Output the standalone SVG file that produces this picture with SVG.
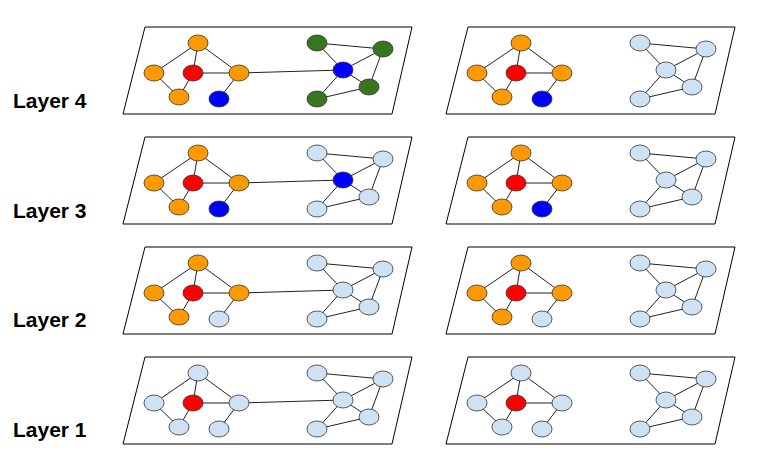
<svg xmlns="http://www.w3.org/2000/svg" xmlns:xlink="http://www.w3.org/1999/xlink" width="759" height="467" viewBox="0 0 759 467">
<style>
.pl{fill:#fff;stroke:#000;stroke-width:1}
.e line{stroke:#222;stroke-width:1}
ellipse{stroke:#333;stroke-width:0.8}
.o{fill:#ff9900}.r{fill:#ff0000}.b{fill:#0000ff}.g{fill:#38761d}.l{fill:#cfe2f3}
.lab{font-family:"Liberation Sans",Arial,sans-serif;font-weight:bold;font-size:21px;fill:#000}
</style>
<defs>
<g id="eA" class="e">
<line x1="198" y1="43" x2="154" y2="73"/><line x1="198" y1="43" x2="193" y2="73"/><line x1="198" y1="43" x2="239" y2="73"/>
<line x1="154" y1="73" x2="179" y2="97"/><line x1="193" y1="73" x2="179" y2="97"/><line x1="193" y1="73" x2="239" y2="73"/>
<line x1="239" y1="73" x2="219" y2="99"/>
<line x1="317" y1="43" x2="383" y2="49"/><line x1="317" y1="43" x2="343" y2="70"/><line x1="383" y1="49" x2="343" y2="70"/>
<line x1="383" y1="49" x2="369" y2="87"/><line x1="343" y1="70" x2="369" y2="87"/><line x1="343" y1="70" x2="317" y2="99"/>
<line x1="317" y1="99" x2="369" y2="87"/>
</g>
<g id="eL" class="e"><use xlink:href="#eA"/><line x1="239" y1="73" x2="343" y2="70"/></g>
<polygon id="pl" class="pl" points="145,27 412,27 392,114 123,114"/>
</defs>
<g id="planes">
<use xlink:href="#pl"/><use xlink:href="#pl" x="323"/>
<use xlink:href="#pl" y="110"/><use xlink:href="#pl" x="323" y="110"/>
<use xlink:href="#pl" y="220"/><use xlink:href="#pl" x="323" y="220"/>
<use xlink:href="#pl" y="330"/><use xlink:href="#pl" x="323" y="330"/>
</g>
<g id="connectors">
<use xlink:href="#eL"/><use xlink:href="#eA" x="323"/>
<use xlink:href="#eL" y="110"/><use xlink:href="#eA" x="323" y="110"/>
<use xlink:href="#eL" y="220"/><use xlink:href="#eA" x="323" y="220"/>
<use xlink:href="#eL" y="330"/><use xlink:href="#eA" x="323" y="330"/>
</g>
<g id="labels">
<text class="lab" x="13" y="108">Layer 4</text>
<text class="lab" x="13" y="218">Layer 3</text>
<text class="lab" x="13" y="327">Layer 2</text>
<text class="lab" x="13" y="437">Layer 1</text>
</g>
<!-- Layer 4 left -->
<g id="L4a">
<g id="L4a-n1"><ellipse class="o" cx="198" cy="43" rx="10" ry="8"/></g>
<g id="L4a-n2"><ellipse class="o" cx="154" cy="73" rx="10" ry="8"/></g>
<g id="L4a-n3"><ellipse class="r" cx="193" cy="73" rx="10" ry="8"/></g>
<g id="L4a-n4"><ellipse class="o" cx="239" cy="73" rx="10" ry="8"/></g>
<g id="L4a-n5"><ellipse class="o" cx="179" cy="97" rx="10" ry="8"/></g>
<g id="L4a-n6"><ellipse class="b" cx="219" cy="99" rx="10" ry="8"/></g>
<g id="L4a-n7"><ellipse class="g" cx="317" cy="43" rx="10" ry="8"/></g>
<g id="L4a-n8"><ellipse class="g" cx="383" cy="49" rx="10" ry="8"/></g>
<g id="L4a-n9"><ellipse class="b" cx="343" cy="70" rx="10" ry="8"/></g>
<g id="L4a-n10"><ellipse class="g" cx="369" cy="87" rx="10" ry="8"/></g>
<g id="L4a-n11"><ellipse class="g" cx="317" cy="99" rx="10" ry="8"/></g>
</g>
<g id="L4b" transform="translate(323,0)">
<g id="L4b-n1"><ellipse class="o" cx="198" cy="43" rx="10" ry="8"/></g>
<g id="L4b-n2"><ellipse class="o" cx="154" cy="73" rx="10" ry="8"/></g>
<g id="L4b-n3"><ellipse class="r" cx="193" cy="73" rx="10" ry="8"/></g>
<g id="L4b-n4"><ellipse class="o" cx="239" cy="73" rx="10" ry="8"/></g>
<g id="L4b-n5"><ellipse class="o" cx="179" cy="97" rx="10" ry="8"/></g>
<g id="L4b-n6"><ellipse class="b" cx="219" cy="99" rx="10" ry="8"/></g>
<g id="L4b-n7"><ellipse class="l" cx="317" cy="43" rx="10" ry="8"/></g>
<g id="L4b-n8"><ellipse class="l" cx="383" cy="49" rx="10" ry="8"/></g>
<g id="L4b-n9"><ellipse class="l" cx="343" cy="70" rx="10" ry="8"/></g>
<g id="L4b-n10"><ellipse class="l" cx="369" cy="87" rx="10" ry="8"/></g>
<g id="L4b-n11"><ellipse class="l" cx="317" cy="99" rx="10" ry="8"/></g>
</g>
<g id="L3a" transform="translate(0,110)">
<g id="L3a-n1"><ellipse class="o" cx="198" cy="43" rx="10" ry="8"/></g>
<g id="L3a-n2"><ellipse class="o" cx="154" cy="73" rx="10" ry="8"/></g>
<g id="L3a-n3"><ellipse class="r" cx="193" cy="73" rx="10" ry="8"/></g>
<g id="L3a-n4"><ellipse class="o" cx="239" cy="73" rx="10" ry="8"/></g>
<g id="L3a-n5"><ellipse class="o" cx="179" cy="97" rx="10" ry="8"/></g>
<g id="L3a-n6"><ellipse class="b" cx="219" cy="99" rx="10" ry="8"/></g>
<g id="L3a-n7"><ellipse class="l" cx="317" cy="43" rx="10" ry="8"/></g>
<g id="L3a-n8"><ellipse class="l" cx="383" cy="49" rx="10" ry="8"/></g>
<g id="L3a-n9"><ellipse class="b" cx="343" cy="70" rx="10" ry="8"/></g>
<g id="L3a-n10"><ellipse class="l" cx="369" cy="87" rx="10" ry="8"/></g>
<g id="L3a-n11"><ellipse class="l" cx="317" cy="99" rx="10" ry="8"/></g>
</g>
<g id="L3b" transform="translate(323,110)">
<g id="L3b-n1"><ellipse class="o" cx="198" cy="43" rx="10" ry="8"/></g>
<g id="L3b-n2"><ellipse class="o" cx="154" cy="73" rx="10" ry="8"/></g>
<g id="L3b-n3"><ellipse class="r" cx="193" cy="73" rx="10" ry="8"/></g>
<g id="L3b-n4"><ellipse class="o" cx="239" cy="73" rx="10" ry="8"/></g>
<g id="L3b-n5"><ellipse class="o" cx="179" cy="97" rx="10" ry="8"/></g>
<g id="L3b-n6"><ellipse class="b" cx="219" cy="99" rx="10" ry="8"/></g>
<g id="L3b-n7"><ellipse class="l" cx="317" cy="43" rx="10" ry="8"/></g>
<g id="L3b-n8"><ellipse class="l" cx="383" cy="49" rx="10" ry="8"/></g>
<g id="L3b-n9"><ellipse class="l" cx="343" cy="70" rx="10" ry="8"/></g>
<g id="L3b-n10"><ellipse class="l" cx="369" cy="87" rx="10" ry="8"/></g>
<g id="L3b-n11"><ellipse class="l" cx="317" cy="99" rx="10" ry="8"/></g>
</g>
<g id="L2a" transform="translate(0,220)">
<g id="L2a-n1"><ellipse class="o" cx="198" cy="43" rx="10" ry="8"/></g>
<g id="L2a-n2"><ellipse class="o" cx="154" cy="73" rx="10" ry="8"/></g>
<g id="L2a-n3"><ellipse class="r" cx="193" cy="73" rx="10" ry="8"/></g>
<g id="L2a-n4"><ellipse class="o" cx="239" cy="73" rx="10" ry="8"/></g>
<g id="L2a-n5"><ellipse class="o" cx="179" cy="97" rx="10" ry="8"/></g>
<g id="L2a-n6"><ellipse class="l" cx="219" cy="99" rx="10" ry="8"/></g>
<g id="L2a-n7"><ellipse class="l" cx="317" cy="43" rx="10" ry="8"/></g>
<g id="L2a-n8"><ellipse class="l" cx="383" cy="49" rx="10" ry="8"/></g>
<g id="L2a-n9"><ellipse class="l" cx="343" cy="70" rx="10" ry="8"/></g>
<g id="L2a-n10"><ellipse class="l" cx="369" cy="87" rx="10" ry="8"/></g>
<g id="L2a-n11"><ellipse class="l" cx="317" cy="99" rx="10" ry="8"/></g>
</g>
<g id="L2b" transform="translate(323,220)">
<g id="L2b-n1"><ellipse class="o" cx="198" cy="43" rx="10" ry="8"/></g>
<g id="L2b-n2"><ellipse class="o" cx="154" cy="73" rx="10" ry="8"/></g>
<g id="L2b-n3"><ellipse class="r" cx="193" cy="73" rx="10" ry="8"/></g>
<g id="L2b-n4"><ellipse class="o" cx="239" cy="73" rx="10" ry="8"/></g>
<g id="L2b-n5"><ellipse class="o" cx="179" cy="97" rx="10" ry="8"/></g>
<g id="L2b-n6"><ellipse class="l" cx="219" cy="99" rx="10" ry="8"/></g>
<g id="L2b-n7"><ellipse class="l" cx="317" cy="43" rx="10" ry="8"/></g>
<g id="L2b-n8"><ellipse class="l" cx="383" cy="49" rx="10" ry="8"/></g>
<g id="L2b-n9"><ellipse class="l" cx="343" cy="70" rx="10" ry="8"/></g>
<g id="L2b-n10"><ellipse class="l" cx="369" cy="87" rx="10" ry="8"/></g>
<g id="L2b-n11"><ellipse class="l" cx="317" cy="99" rx="10" ry="8"/></g>
</g>
<g id="L1a" transform="translate(0,330)">
<g id="L1a-n1"><ellipse class="l" cx="198" cy="43" rx="10" ry="8"/></g>
<g id="L1a-n2"><ellipse class="l" cx="154" cy="73" rx="10" ry="8"/></g>
<g id="L1a-n3"><ellipse class="r" cx="193" cy="73" rx="10" ry="8"/></g>
<g id="L1a-n4"><ellipse class="l" cx="239" cy="73" rx="10" ry="8"/></g>
<g id="L1a-n5"><ellipse class="l" cx="179" cy="97" rx="10" ry="8"/></g>
<g id="L1a-n6"><ellipse class="l" cx="219" cy="99" rx="10" ry="8"/></g>
<g id="L1a-n7"><ellipse class="l" cx="317" cy="43" rx="10" ry="8"/></g>
<g id="L1a-n8"><ellipse class="l" cx="383" cy="49" rx="10" ry="8"/></g>
<g id="L1a-n9"><ellipse class="l" cx="343" cy="70" rx="10" ry="8"/></g>
<g id="L1a-n10"><ellipse class="l" cx="369" cy="87" rx="10" ry="8"/></g>
<g id="L1a-n11"><ellipse class="l" cx="317" cy="99" rx="10" ry="8"/></g>
</g>
<g id="L1b" transform="translate(323,330)">
<g id="L1b-n1"><ellipse class="l" cx="198" cy="43" rx="10" ry="8"/></g>
<g id="L1b-n2"><ellipse class="l" cx="154" cy="73" rx="10" ry="8"/></g>
<g id="L1b-n3"><ellipse class="r" cx="193" cy="73" rx="10" ry="8"/></g>
<g id="L1b-n4"><ellipse class="l" cx="239" cy="73" rx="10" ry="8"/></g>
<g id="L1b-n5"><ellipse class="l" cx="179" cy="97" rx="10" ry="8"/></g>
<g id="L1b-n6"><ellipse class="l" cx="219" cy="99" rx="10" ry="8"/></g>
<g id="L1b-n7"><ellipse class="l" cx="317" cy="43" rx="10" ry="8"/></g>
<g id="L1b-n8"><ellipse class="l" cx="383" cy="49" rx="10" ry="8"/></g>
<g id="L1b-n9"><ellipse class="l" cx="343" cy="70" rx="10" ry="8"/></g>
<g id="L1b-n10"><ellipse class="l" cx="369" cy="87" rx="10" ry="8"/></g>
<g id="L1b-n11"><ellipse class="l" cx="317" cy="99" rx="10" ry="8"/></g>
</g>
</svg>
